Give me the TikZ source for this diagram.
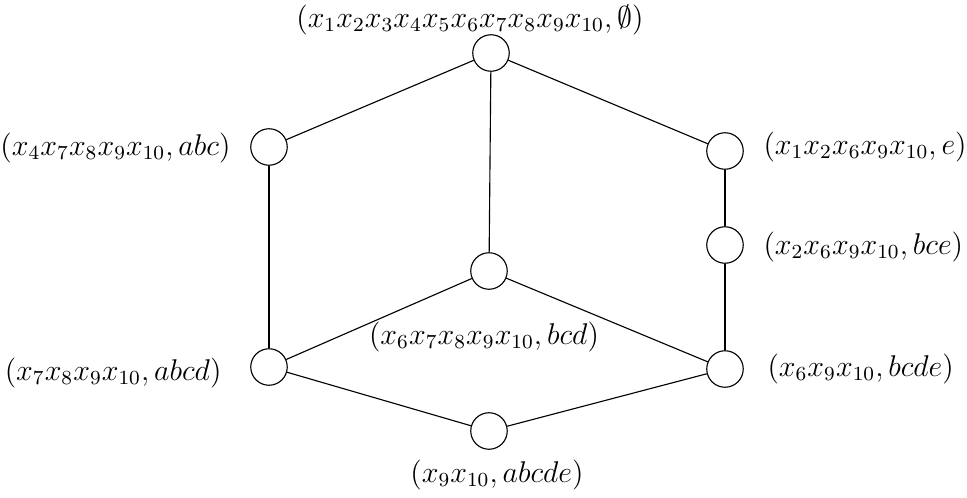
\documentclass[tikz,border=0pt]{standalone}
\begin{document}
\begin{tikzpicture}[x=0.4pt,y=-0.4pt,
  font=\fontsize{11.6}{14}\selectfont,
  vtx/.style={circle,draw,fill=white,minimum size=14.6pt,inner sep=0pt,line width=0.45pt},
  lbl/.style={inner sep=0pt},
  edge/.style={line width=0.45pt}]
\useasboundingbox (0,0) rectangle (967,498);
\node[vtx] (top) at (491,53) {};
\node[vtx] (abc) at (269,147) {};
\node[vtx] (e) at (725,151) {};
\node[vtx] (bce) at (725,245) {};
\node[vtx] (bcd) at (489,271) {};
\node[vtx] (abcd) at (269,367) {};
\node[vtx] (bcde) at (725,369) {};
\node[vtx] (abcde) at (489,431) {};
\draw[edge] (top) -- (abc);
\draw[edge] (top) -- (e);
\draw[edge] (top) -- (bcd);
\draw[edge] (abc) -- (abcd);
\draw[edge] (e) -- (bce);
\draw[edge] (bce) -- (bcde);
\draw[edge] (bcd) -- (abcd);
\draw[edge] (bcd) -- (bcde);
\draw[edge] (abcd) -- (abcde);
\draw[edge] (bcde) -- (abcde);
\node[lbl] (ltop) at (470,20) {$(x_1x_2x_3x_4x_5x_6x_7x_8x_9x_{10},\emptyset)$};
\node[lbl,anchor=east] (labc) at (231,148) {$(x_4x_7x_8x_9x_{10},abc)$};
\node[lbl,anchor=west] (le) at (763,147) {$(x_1x_2x_6x_9x_{10},e)$};
\node[lbl,anchor=west] (lbce) at (763,247) {$(x_2x_6x_9x_{10},bce)$};
\node[lbl] (lbcd) at (484,337) {$(x_6x_7x_8x_9x_{10},bcd)$};
\node[lbl,anchor=east] (labcd) at (222,373) {$(x_7x_8x_9x_{10},abcd)$};
\node[lbl,anchor=west] (lbcde) at (767,369) {$(x_6x_9x_{10},bcde)$};
\node[lbl] (labcde) at (497,475) {$(x_9x_{10},abcde)$};
\end{tikzpicture}
\end{document}
